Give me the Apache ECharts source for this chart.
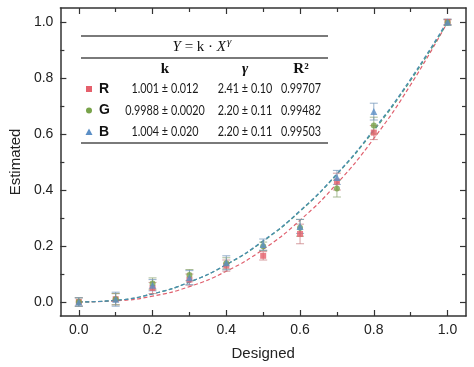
<!DOCTYPE html>
<html>
<head>
<meta charset="utf-8">
<script src="https://cdn.jsdelivr.net/npm/echarts@6/dist/echarts.min.js"></script>
<style>html,body{margin:0;padding:0;background:#fff}#c{width:474px;height:367px}</style>
</head>
<body>
<div id="c"></div>
<script>
// ---- data ----
var designed = [0.0, 0.1, 0.2, 0.3, 0.4, 0.5, 0.6, 0.7, 0.8, 1.0];
var estR = [0.0, 0.010, 0.050, 0.080, 0.130, 0.165, 0.243, 0.430, 0.605, 1.000];
var estG = [0.0, 0.010, 0.066, 0.096, 0.138, 0.199, 0.265, 0.405, 0.630, 0.998];
var estB = [0.0, 0.010, 0.060, 0.087, 0.140, 0.205, 0.270, 0.445, 0.680, 1.000];
var errR = [0.015, 0.020, 0.020, 0.020, 0.020, 0.015, 0.035, 0.030, 0.025, 0.010];
var errG = [0.015, 0.020, 0.020, 0.020, 0.020, 0.015, 0.030, 0.030, 0.030, 0.010];
var errB = [0.015, 0.025, 0.020, 0.025, 0.025, 0.020, 0.025, 0.025, 0.030, 0.010];
// fitted curves
var fitX = [0.0, 0.1, 0.2, 0.3, 0.4, 0.5, 0.6, 0.7, 0.8, 0.9, 1.0];
var fitR = [0.0, 0.004, 0.021, 0.055, 0.110, 0.188, 0.292, 0.423, 0.584, 0.776, 1.000];
var fitG = [0.0, 0.006, 0.029, 0.071, 0.133, 0.217, 0.324, 0.456, 0.612, 0.792, 0.999];
var fitB = [0.0, 0.006, 0.029, 0.071, 0.134, 0.219, 0.326, 0.458, 0.616, 0.797, 1.004];
var majorTicks = [0.0, 0.2, 0.4, 0.6, 0.8, 1.0];
var minorTicks = [0.1, 0.3, 0.5, 0.7, 0.9];
var channelNames = ['R', 'G', 'B'];
var kValues = ['1.001 \u00b1 0.012', '0.9988 \u00b1 0.0020', '1.004 \u00b1 0.020'];
var gammaValues = ['2.41 \u00b1 0.10', '2.20 \u00b1 0.11', '2.20 \u00b1 0.11'];
var r2Values = ['0.99707', '0.99482', '0.99503'];
var headers = ['k', '\u03b3', 'R\u00b2'];

// ---- styles ----
var colR = '#e5606c', colG = '#78a34a', colB = '#5b8fc6';
var barR = 'rgba(200,125,130,0.75)', barG = 'rgba(140,165,115,0.75)', barB = 'rgba(115,150,185,0.75)';
var fitColR = '#e0606e', fitColG = '#4f9e78', fitColB = '#4a8cb2';
var frame = '#333';
var sans = '"Liberation Sans", Arial, sans-serif';
var serif = '"Liberation Serif", "DejaVu Serif", serif';

function pairs(xs, ys) { return xs.map(function (x, i) { return [x, ys[i]]; }); }
function triples(xs, ys, es) { return xs.map(function (x, i) { return [x, ys[i], es[i]]; }); }

function makeAxis(pos, ticks, len, showLabel, showLine, name, gap) {
  var a = {
    type: 'value', position: pos, min: -0.05, max: 1.05,
    splitLine: { show: false },
    axisLine: { show: showLine, onZero: false, lineStyle: { color: frame, width: 1.5 } },
    axisTick: { show: true, inside: true, length: len, customValues: ticks, lineStyle: { color: frame, width: 1.2 } },
    axisLabel: { show: showLabel, customValues: ticks, margin: 7, color: '#222', fontSize: 14, fontFamily: sans,
      formatter: function (v) { return v.toFixed(1); } }
  };
  if (name) {
    a.name = name; a.nameLocation = 'middle'; a.nameGap = gap;
    a.nameTextStyle = { fontSize: 15, color: '#222', fontFamily: sans };
  }
  return a;
}

function errRender(color) {
  return function (params, api) {
    var x = api.value(0), y = api.value(1), e = api.value(2);
    var t = api.coord([x, y + e]), b = api.coord([x, y - e]);
    var w = 4;
    var st = { stroke: color, lineWidth: 1 };
    return { type: 'group', children: [
      { type: 'line', shape: { x1: t[0], y1: t[1], x2: b[0], y2: b[1] }, style: st },
      { type: 'line', shape: { x1: t[0] - w, y1: t[1], x2: t[0] + w, y2: t[1] }, style: st },
      { type: 'line', shape: { x1: b[0] - w, y1: b[1], x2: b[0] + w, y2: b[1] }, style: st }
    ] };
  };
}

function fitSeries(ys, color) {
  return { type: 'line', data: pairs(fitX, ys), smooth: 0.5, symbol: 'none', z: 2,
    lineStyle: { color: color, width: 1.2, type: [4, 2.5] } };
}

// ---- table (annotation) ----
var tL = 81, tR = 328;
var colK = 165, colGm = 245, colR2 = 301;
var rowY = [89, 110.5, 132];
var tableFont = 'Lato, "Open Sans", sans-serif';
var g = [];
[36, 58, 143].forEach(function (y) {
  g.push({ type: 'line', shape: { x1: tL, y1: y, x2: tR, y2: y }, style: { stroke: '#7a7a7a', lineWidth: 2 }, z: 10 });
});
g.push({ type: 'text', x: 226, y: 47, z: 10, style: {
  text: '{i|Y} = k \u00b7 {i|X}', align: 'right', verticalAlign: 'middle',
  font: '15px ' + serif, fill: '#111',
  rich: { i: { fontStyle: 'italic', fontFamily: serif, fontSize: 15 } } } });
g.push({ type: 'text', x: 227, y: 42, z: 10, style: { text: '\u03b3',
  font: 'italic 11px ' + serif, fill: '#111', align: 'left', verticalAlign: 'middle' } });
[colK, colGm, colR2].forEach(function (cx, i) {
  g.push({ type: 'text', x: cx, y: 69, z: 10, style: { text: headers[i], align: 'center', verticalAlign: 'middle',
    font: (i === 1 ? 'italic ' : '') + 'bold 15px ' + serif, fill: '#111' } });
});
var markColors = [colR, colG, colB];
rowY.forEach(function (y, i) {
  var mx = 89;
  if (i === 0) g.push({ type: 'rect', shape: { x: mx - 3, y: y - 3, width: 6, height: 6 }, style: { fill: markColors[i] }, z: 10 });
  if (i === 1) g.push({ type: 'circle', shape: { cx: mx, cy: y, r: 3 }, style: { fill: markColors[i] }, z: 10 });
  if (i === 2) g.push({ type: 'polygon', shape: { points: [[mx, y - 3.5], [mx - 3.5, y + 3], [mx + 3.5, y + 3]] }, style: { fill: markColors[i] }, z: 10 });
  g.push({ type: 'text', x: 99, y: y, z: 10, style: { text: channelNames[i], align: 'left', verticalAlign: 'middle',
    font: 'bold 14px ' + sans, fill: '#111' } });
  [[colK, kValues[i]], [colGm, gammaValues[i]], [colR2, r2Values[i]]].forEach(function (c) {
    g.push({ type: 'text', x: c[0], y: y, scaleX: 0.8, z: 10, style: { text: c[1], align: 'center', verticalAlign: 'middle',
      font: '13.5px ' + tableFont, fill: '#1a1a1a' } });
  });
});

var chart = echarts.init(document.getElementById('c'), null, { renderer: 'canvas' });
chart.setOption({
  animation: false,
  backgroundColor: '#fff',
  grid: { left: 52, right: 8, top: 8, bottom: 51 },
  xAxis: [
    makeAxis('bottom', majorTicks, 6, true, true, 'Designed', 30),
    makeAxis('bottom', minorTicks, 4, false, false),
    makeAxis('top', majorTicks, 6, false, true),
    makeAxis('top', minorTicks, 4, false, false)
  ],
  yAxis: [
    makeAxis('left', majorTicks, 6, true, true, 'Estimated', 29),
    makeAxis('left', minorTicks, 4, false, false),
    makeAxis('right', majorTicks, 6, false, true),
    makeAxis('right', minorTicks, 4, false, false)
  ],
  graphic: g,
  series: [
    fitSeries(fitR, fitColR),
    fitSeries(fitG, fitColG),
    fitSeries(fitB, fitColB),
    { type: 'custom', data: triples(designed, estR, errR), renderItem: errRender(barR), z: 3 },
    { type: 'custom', data: triples(designed, estG, errG), renderItem: errRender(barG), z: 3 },
    { type: 'custom', data: triples(designed, estB, errB), renderItem: errRender(barB), z: 3 },
    { type: 'scatter', data: pairs(designed, estR), symbol: 'rect', symbolSize: 6, itemStyle: { color: colR }, z: 4 },
    { type: 'scatter', data: pairs(designed, estG), symbol: 'circle', symbolSize: 6, itemStyle: { color: colG }, z: 4 },
    { type: 'scatter', data: pairs(designed, estB), symbol: 'triangle', symbolSize: 7, itemStyle: { color: colB }, z: 4 }
  ]
});
</script>
</body>
</html>
